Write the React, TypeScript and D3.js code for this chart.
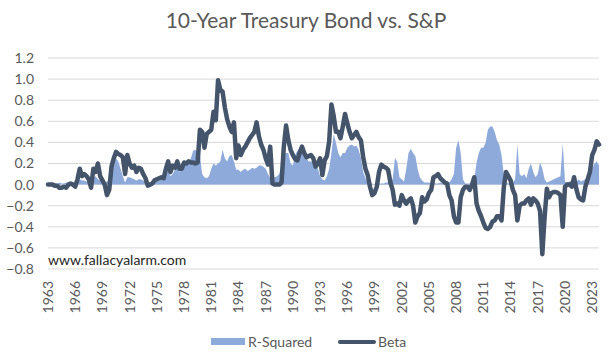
import React from "react";
import * as d3 from "d3";

// quarterly readings, first point Q1 1963
const startYear = 1963;
const pointsPerYear = 4;

const betaValues = [
  0.0, 0.0, 0.0, -0.01, // 1963
  -0.01, -0.03, -0.03, -0.02,
  -0.03, 0.0, 0.01, 0.0,
  -0.02, 0.05, 0.15, 0.08,
  0.1, 0.08, 0.05, -0.03,
  0.15, 0.12, 0.2, 0.08, // 1968
  0.04, 0.0, -0.1, -0.05,
  0.17, 0.25, 0.31, 0.29,
  0.28, 0.26, 0.1, 0.28,
  0.2, 0.16, 0.18, 0.12,
  0.16, 0.15, 0.1, 0.06, // 1973
  -0.01, 0.0, 0.01, 0.04,
  0.05, 0.06, 0.07, 0.06,
  0.15, 0.22, 0.12, 0.18,
  0.16, 0.22, 0.15, 0.15,
  0.21, 0.2, 0.22, 0.21, // 1978
  0.21, 0.2, 0.21, 0.52,
  0.5, 0.35, 0.48, 0.5,
  0.52, 0.69, 0.61, 0.99,
  0.9, 0.88, 0.73, 0.62,
  0.55, 0.5, 0.59, 0.25, // 1983
  0.37, 0.28, 0.33, 0.36,
  0.4, 0.44, 0.47, 0.5,
  0.59, 0.46, 0.38, 0.33,
  0.25, 0.19, 0.36, 0.01,
  0.0, 0.0, 0.0, 0.02, // 1988
  0.36, 0.56, 0.42, 0.33,
  0.28, 0.24, 0.23, 0.3,
  0.36, 0.3, 0.26, 0.27,
  0.28, 0.25, 0.17, 0.2,
  0.25, 0.09, 0.23, 0.27, // 1993
  0.41, 0.76, 0.65, 0.5,
  0.5, 0.44, 0.55, 0.67,
  0.58, 0.5, 0.44, 0.47,
  0.5, 0.45, 0.42, 0.26,
  0.15, 0.09, -0.02, -0.1, // 1998
  -0.08, -0.02, 0.12, 0.19,
  0.17, 0.16, 0.14, 0.02,
  -0.05, -0.19, -0.18, -0.2,
  -0.1, -0.15, -0.18, -0.15,
  -0.13, -0.2, -0.36, -0.3, // 2003
  -0.27, -0.12, -0.16, -0.14,
  -0.08, -0.05, 0.07, 0.08,
  0.1, 0.06, 0.04, 0.02,
  0.01, -0.1, -0.15, -0.3,
  -0.36, -0.36, -0.12, -0.05, // 2008
  -0.02, -0.02, -0.05, 0.0,
  0.07, -0.18, -0.25, -0.3,
  -0.36, -0.41, -0.42, -0.4,
  -0.35, -0.34, -0.3, -0.3,
  -0.34, -0.03, 0.12, 0.08, // 2013
  0.04, -0.05, -0.1, -0.34,
  -0.2, -0.18, -0.18, -0.15,
  -0.13, -0.19, -0.13, -0.15,
  -0.18, -0.25, -0.66, -0.31,
  -0.04, -0.12, -0.08, -0.07, // 2018
  -0.07, -0.08, -0.1, -0.4,
  -0.02, 0.0, 0.0, -0.02,
  0.07, -0.04, -0.12, -0.14,
  -0.15, -0.02, 0.05, 0.12,
  0.28, 0.33, 0.41, 0.38, // 2023
];

const rSquaredValues = [
  0.01, 0.01, 0.02, 0.01, // 1963
  0.01, 0.02, 0.01, 0.01,
  0.02, 0.01, 0.01, 0.02,
  0.02, 0.03, 0.05, 0.04,
  0.04, 0.03, 0.02, 0.03,
  0.06, 0.08, 0.05, 0.04, // 1968
  0.03, 0.02, 0.03, 0.05,
  0.1, 0.2, 0.25, 0.22,
  0.15, 0.08, 0.02, 0.07,
  0.07, 0.06, 0.05, 0.04,
  0.05, 0.05, 0.04, 0.02, // 1973
  0.01, 0.01, 0.02, 0.03,
  0.03, 0.04, 0.05, 0.06,
  0.1, 0.15, 0.08, 0.1,
  0.14, 0.17, 0.12, 0.15,
  0.18, 0.2, 0.2, 0.25, // 1978
  0.32, 0.33, 0.3, 0.28,
  0.1, 0.07, 0.06, 0.08,
  0.15, 0.2, 0.18, 0.2,
  0.22, 0.33, 0.25, 0.22,
  0.27, 0.28, 0.22, 0.14, // 1983
  0.14, 0.12, 0.14, 0.15,
  0.13, 0.14, 0.16, 0.15,
  0.16, 0.18, 0.18, 0.17,
  0.15, 0.1, 0.06, 0.07,
  0.07, 0.08, 0.1, 0.2, // 1988
  0.28, 0.3, 0.3, 0.2,
  0.18, 0.28, 0.32, 0.35,
  0.35, 0.3, 0.25, 0.22,
  0.22, 0.22, 0.18, 0.15,
  0.08, 0.05, 0.04, 0.08, // 1993
  0.15, 0.3, 0.48, 0.4,
  0.3, 0.26, 0.3, 0.3,
  0.35, 0.37, 0.38, 0.36,
  0.37, 0.33, 0.25, 0.12,
  0.06, 0.02, 0.01, 0.01, // 1998
  0.0, 0.0, 0.01, 0.01,
  0.01, 0.02, 0.02, 0.03,
  0.05, 0.25, 0.22, 0.07,
  0.05, 0.03, 0.15, 0.3,
  0.34, 0.3, 0.27, 0.15, // 2003
  0.07, 0.04, 0.02, 0.02,
  0.02, 0.01, 0.02, 0.01,
  0.01, 0.02, 0.01, 0.01,
  0.01, 0.02, 0.05, 0.1,
  0.35, 0.42, 0.3, 0.05, // 2008
  0.01, 0.01, 0.01, 0.01,
  0.05, 0.21, 0.3, 0.35,
  0.35, 0.4, 0.52, 0.55,
  0.55, 0.5, 0.42, 0.38,
  0.28, 0.1, 0.02, 0.01, // 2013
  0.01, 0.02, 0.05, 0.38,
  0.1, 0.08, 0.1, 0.06,
  0.15, 0.2, 0.12, 0.07,
  0.1, 0.21, 0.15, 0.05,
  0.02, 0.03, 0.04, 0.05, // 2018
  0.06, 0.07, 0.08, 0.39,
  0.03, 0.02, 0.03, 0.04,
  0.03, 0.02, 0.05, 0.03,
  0.04, 0.05, 0.08, 0.12,
  0.15, 0.2, 0.22, 0.18, // 2023
];

const xTickYears = [
  1963, 1966, 1969, 1972, 1975, 1978, 1981, 1984, 1987, 1990, 1993, 1996,
  1999, 2002, 2005, 2008, 2011, 2014, 2017, 2020, 2023,
];
const yTickValues = [-0.8, -0.6, -0.4, -0.2, 0, 0.2, 0.4, 0.6, 0.8, 1.0, 1.2];

const seriesNames = ["R-Squared", "Beta"];

const width = 613,
  height = 360;
const font = "Lato, 'Open Sans', sans-serif";
const textColor = "#595959";
const areaColor = "#8eaadb";
const lineColor = "#44546a";

export default function App() {
  const plot = { left: 48, right: 599, top: 58, bottom: 269 };

  const dates = betaValues.map((_, i) => startYear + i / pointsPerYear);
  const lastDate = dates[dates.length - 1];

  const x = d3.scaleLinear().domain([startYear, lastDate]).range([plot.left, plot.right]);
  const y = d3.scaleLinear().domain([-0.8, 1.2]).range([plot.bottom, plot.top]);

  const area = d3
    .area<number>()
    .x((_, i) => x(dates[i]))
    .y0(y(0))
    .y1((d) => y(d));

  const line = d3
    .line<number>()
    .x((_, i) => x(dates[i]))
    .y((d) => y(d));

  return (
    <svg
      width={width}
      height={height}
      style={{ position: "absolute", left: 0, top: 0, background: "#fff" }}
      fontFamily={font}
    >
      {/* Title */}
      <text x={306} y={28} textAnchor="middle" fontSize={21} fill={textColor}>
        10-Year Treasury Bond vs. S&amp;P
      </text>

      {/* gridlines and y labels */}
      {yTickValues.map((v) => (
        <g key={v}>
          <line x1={plot.left} x2={plot.right} y1={y(v)} y2={y(v)} stroke="#d9d9d9" strokeWidth={1} />
          <text x={34} y={y(v)} dy="0.35em" textAnchor="end" fontSize={14} fill={textColor}>
            {d3.format(".1f")(v)}
          </text>
        </g>
      ))}

      {/* x labels */}
      {xTickYears.map((yr) => (
        <text
          key={yr}
          transform={`translate(${x(yr)},${281}) rotate(-90)`}
          dy="0.35em"
          textAnchor="end"
          fontSize={14}
          fill={textColor}
        >
          {yr}
        </text>
      ))}

      {/* R-Squared area */}
      <path d={area(rSquaredValues) || ""} fill={areaColor} />

      {/* Beta line */}
      <path
        d={line(betaValues) || ""}
        fill="none"
        stroke={lineColor}
        strokeWidth={4.5}
        strokeLinejoin="round"
        strokeLinecap="round"
      />

      {/* watermark */}
      <text x={48} y={265} fontSize={14} fill="#262626">
        www.fallacyalarm.com
      </text>

      {/* legend */}
      <rect x={211} y={338} width={34} height={7} fill={areaColor} />
      <text x={248} y={342} dy="0.35em" fontSize={14} fill={textColor}>
        {seriesNames[0]}
      </text>
      <line x1={340} x2={374} y1={342} y2={342} stroke={lineColor} strokeWidth={4} strokeLinecap="round" />
      <text x={378} y={342} dy="0.35em" fontSize={14} fill={textColor}>
        {seriesNames[1]}
      </text>
    </svg>
  );
}
